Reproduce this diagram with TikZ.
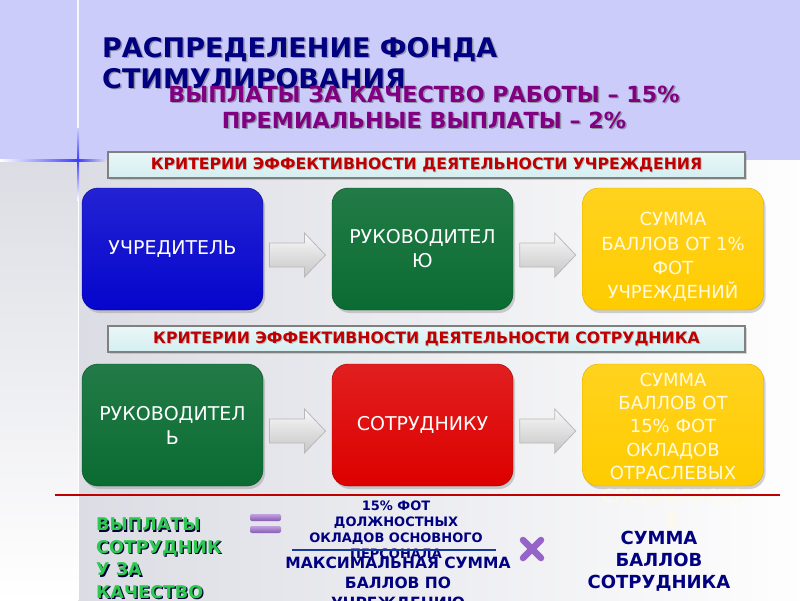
\documentclass[tikz,border=0pt]{standalone}
\usepackage{fontspec}
\setmainfont{DejaVu Sans}
\usetikzlibrary{shadows,calc}
\definecolor{lav}{RGB}{204,204,250}
\definecolor{bggray}{RGB}{220,221,228}
\definecolor{navy}{RGB}{0,0,128}
\definecolor{titlepurple}{RGB}{128,0,128}
\definecolor{bannerfill}{RGB}{212,238,240}
\definecolor{bannertext}{RGB}{192,0,0}
\definecolor{boxblue}{RGB}{5,5,205}
\definecolor{boxgreen}{RGB}{10,108,50}
\definecolor{boxred}{RGB}{221,0,0}
\definecolor{boxyellow}{RGB}{255,204,0}
\definecolor{yeltext}{RGB}{255,250,225}
\definecolor{eqgreen}{RGB}{45,200,80}
\definecolor{eqpurple}{RGB}{150,100,200}
\definecolor{fracblue}{RGB}{26,58,154}
\definecolor{redline}{RGB}{192,0,0}
\newcommand\shtext[4]{%
  \node[#1, text=black!70, opacity=0.45, xshift=1.5pt, yshift=-1.5pt] at (#2) {#4};
  \node[#1] (#3) at (#2) {#4};}
% block arrow centred on a named coordinate
\newcommand\garrowat[1]{%
  \shadedraw[garrow] ($(#1)+(-28,-12)$) -- ($(#1)+(7,-12)$) -- ($(#1)+(7,-22)$)
    -- ($(#1)+(28,0)$) -- ($(#1)+(7,22)$) -- ($(#1)+(7,12)$)
    -- ($(#1)+(-28,12)$) -- cycle;}
\tikzset{
  box/.style={rounded corners=16pt, minimum width=181pt, minimum height=122pt,
    text width=170pt, align=center, text=white, inner sep=0pt,
    font=\fontsize{19}{24}\selectfont,
    drop shadow={opacity=0.35, shadow xshift=2pt, shadow yshift=-3pt}},
  banner/.style={minimum width=637pt, minimum height=26pt, inner sep=0pt,
    top color=bannerfill!50!white, bottom color=bannerfill, draw=gray, line width=1.2pt,
    drop shadow={opacity=0.3, shadow xshift=1.5pt, shadow yshift=-2pt}},
  bannertxt/.style={font=\fontsize{15.7}{18}\selectfont\bfseries, text=bannertext, inner sep=0pt},
  garrow/.style={draw=gray!55, line width=0.8pt, top color=gray!5, bottom color=gray!45},
  eqbar/.style={rounded corners=2pt, minimum width=31pt, minimum height=7pt, inner sep=0pt,
    top color=eqpurple!60!white, bottom color=eqpurple!90!black},
}
\begin{document}
\begin{tikzpicture}[x=1pt,y=-1pt]
\useasboundingbox (0,0) rectangle (800,600);
% background
\fill[lav] (0,0) rectangle (800,160);
\shade[left color=bggray, right color=white!96!bggray] (78,160) rectangle (800,600);
\shade[top color=bggray, bottom color=white] (0,160) rectangle (78,600);
\fill[white!85!lav] (77.3,0) rectangle (78.7,140);
\draw[white, line width=1] (78,190) -- (78,600);
\shade[left color=white, right color=blue!70!lav] (0,159) rectangle (78,161.2);
\shade[left color=blue!70!lav, right color=bggray] (78,159) rectangle (106,161.2);
\shade[top color=lav, bottom color=blue!70!lav] (77,128) rectangle (79,160);
\shade[top color=blue!70!lav, bottom color=white] (77,160) rectangle (79,200);
% title
\shtext{anchor=base west, font=\fontsize{27}{30}\selectfont\bfseries, text=navy, inner sep=0pt}{102,57}{t1}{РАСПРЕДЕЛЕНИЕ ФОНДА}
\shtext{anchor=base west, font=\fontsize{27}{30}\selectfont\bfseries, text=navy, inner sep=0pt}{102,88}{t2}{СТИМУЛИРОВАНИЯ}
\shtext{anchor=base, font=\fontsize{22.2}{24}\selectfont\bfseries, text=titlepurple, inner sep=0pt}{424,102}{s1}{ВЫПЛАТЫ ЗА КАЧЕСТВО РАБОТЫ – 15\%}
\shtext{anchor=base, font=\fontsize{22.2}{24}\selectfont\bfseries, text=titlepurple, inner sep=0pt}{424,128}{s2}{ПРЕМИАЛЬНЫЕ ВЫПЛАТЫ – 2\%}
% banners
\node[banner] (b1) at (426.5,165) {};
\node[bannertxt, text=black, opacity=0.2, xshift=1pt, yshift=-1pt] at (b1) {КРИТЕРИИ ЭФФЕКТИВНОСТИ ДЕЯТЕЛЬНОСТИ УЧРЕЖДЕНИЯ};
\node[bannertxt] (b1t) at (b1) {КРИТЕРИИ ЭФФЕКТИВНОСТИ ДЕЯТЕЛЬНОСТИ УЧРЕЖДЕНИЯ};
\node[banner] (b2) at (426.5,339) {};
\node[bannertxt, text=black, opacity=0.2, xshift=1pt, yshift=-1pt] at (b2) {КРИТЕРИИ ЭФФЕКТИВНОСТИ ДЕЯТЕЛЬНОСТИ СОТРУДНИКА};
\node[bannertxt] (b2t) at (b2) {КРИТЕРИИ ЭФФЕКТИВНОСТИ ДЕЯТЕЛЬНОСТИ СОТРУДНИКА};
% row 1
\node[box, top color=boxblue!88!white, bottom color=boxblue, draw=boxblue!70!black] (r1a) at (172.5,249) {УЧРЕДИТЕЛЬ};
\node[box, top color=boxgreen!90!white, bottom color=boxgreen, draw=boxgreen!70!black] (r1b) at (422.5,249) {РУКОВОДИТЕЛ\\Ю};
\node[box, top color=boxyellow!88!white, bottom color=boxyellow, draw=boxyellow!85!black] (r1c) at (673,249) {};
\node[text=yeltext, align=center, font=\fontsize{18}{24.3}\selectfont] (r1ct) at (673,257) {СУММА\\БАЛЛОВ ОТ 1\%\\ФОТ\\УЧРЕЖДЕНИЙ};
% row 2
\node[box, top color=boxgreen!90!white, bottom color=boxgreen, draw=boxgreen!70!black] (r2a) at (172.5,425) {РУКОВОДИТЕЛ\\Ь};
\node[box, top color=boxred!88!white, bottom color=boxred, draw=boxred!70!black] (r2b) at (422.5,425) {СОТРУДНИКУ};
\node[box, top color=boxyellow!88!white, bottom color=boxyellow, draw=boxyellow!85!black] (r2c) at (673,425) {};
\node[text=yeltext, align=center, font=\fontsize{18}{23.2}\selectfont, anchor=north, inner sep=0pt] (r2ct) at (673,373) {СУММА\\БАЛЛОВ ОТ\\15\% ФОТ\\ОКЛАДОВ\\ОТРАСЛЕВЫХ\\СПЕЦИАЛИСТО\\В};
% arrows between boxes
\coordinate (a1) at ($(r1a.east)!0.5!(r1b.west)+(0,6)$);
\coordinate (a2) at ($(r1b.east)!0.5!(r1c.west)+(0,6)$);
\coordinate (a3) at ($(r2a.east)!0.5!(r2b.west)+(0,6)$);
\coordinate (a4) at ($(r2b.east)!0.5!(r2c.west)+(0,6)$);
\garrowat{a1}
\garrowat{a2}
\garrowat{a3}
\garrowat{a4}
% red line
\draw[redline, line width=2pt] (55,495) -- (780,495);
% bottom formula
\node[anchor=north west, align=left, font=\fontsize{17.5}{22.5}\selectfont\bfseries, text=black!80!blue, inner sep=0pt, xshift=1.3pt, yshift=-1.3pt] at (96,518) {ВЫПЛАТЫ\\СОТРУДНИК\\У ЗА\\КАЧЕСТВО};
\node[anchor=north west, align=left, font=\fontsize{17.5}{22.5}\selectfont\bfseries, text=eqgreen, inner sep=0pt] (lhs) at (96,518) {ВЫПЛАТЫ\\СОТРУДНИК\\У ЗА\\КАЧЕСТВО};
\node[eqbar] (eq1) at (265.5,517.5) {};
\node[eqbar] (eq2) at (265.5,529.5) {};
\node[anchor=north, align=center, font=\fontsize{13}{16}\selectfont\bfseries, text=navy, inner sep=0pt] (num) at (396,501) {15\% ФОТ\\ДОЛЖНОСТНЫХ\\ОКЛАДОВ ОСНОВНОГО\\ПЕРСОНАЛА};
\coordinate (fl) at (292,550);
\coordinate (fr) at (496,550);
\draw[fracblue, line width=2.5pt] (fl) -- (fr);
\node[anchor=north, align=center, font=\fontsize{15.5}{20}\selectfont\bfseries, text=navy, inner sep=0pt] (den) at (398,557) {МАКСИМАЛЬНАЯ СУММА\\БАЛЛОВ ПО\\УЧРЕЖДЕНИЮ};
\coordinate (xc) at (532,549);
\draw[eqpurple, line width=6.5pt, line cap=round] ($(xc)+(-9,-9)$) -- ($(xc)+(9,9)$) ($(xc)+(9,-9)$) -- ($(xc)+(-9,9)$);
\node[anchor=north, align=center, font=\fontsize{18}{22}\selectfont\bfseries, text=navy, inner sep=0pt] (rhs) at (659,531) {СУММА\\БАЛЛОВ\\СОТРУДНИКА};
\end{tikzpicture}
\end{document}
